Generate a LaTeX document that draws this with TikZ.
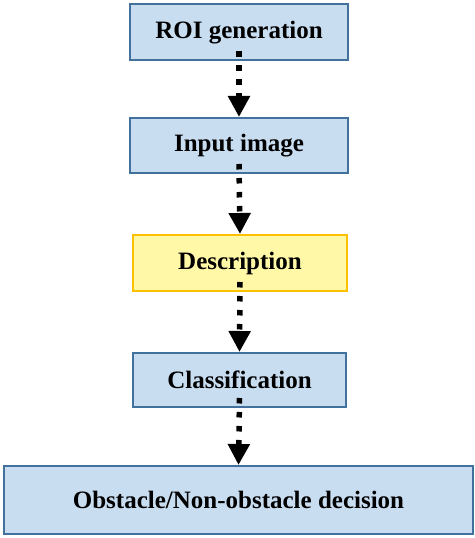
\documentclass[tikz,border=0pt]{standalone}
\usepackage{fontspec}
\setmainfont{Liberation Serif}
\usetikzlibrary{arrows.meta}

\definecolor{BoxFill}{HTML}{C9DDF1}
\definecolor{BoxLine}{HTML}{41719C}
\definecolor{DescFill}{HTML}{FFF8A6}
\definecolor{DescLine}{HTML}{FFC000}

\begin{document}
\begin{tikzpicture}[x=1pt, y=1pt,
  step box/.style={draw=BoxLine, fill=BoxFill, line width=2pt, inner sep=0pt,
    font=\fontsize{25}{28}\selectfont\bfseries},
  flow/.style={line width=5.5pt, dash pattern=on 5.5pt off 8.5pt,
    -{Triangle[width=21pt, length=21pt]}}]

 %%%%%%%%%% Frame %%%%%%%%%%
 \useasboundingbox (0,0) rectangle (474,538);

 %%%%%%%%%% Steps %%%%%%%%%%
 \node [step box, minimum width=218pt, minimum height=56pt] (roi) at (239,505.5) {ROI generation};
 \node [step box, minimum width=218pt, minimum height=55pt] (input) at (239,392.5) {Input image};
 \node [step box, draw=DescLine, fill=DescFill, minimum width=214pt, minimum height=56pt] (desc) at (240,275) {Description};
 \node [step box, minimum width=213pt, minimum height=54pt] (class) at (239.5,158) {Classification};
 \node [step box, minimum width=469pt, minimum height=68pt] (decision) at (238.5,38) {Obstacle/Non-obstacle decision};

 %%%%%%%%%% Arrows %%%%%%%%%%
 \draw [flow] ([yshift=10pt]roi.south) -- (input.north);
 \draw [flow] ([yshift=10pt]input.south) -- (desc.north);
 \draw [flow] ([yshift=10pt]desc.south) -- (class.north);
 \draw [flow] ([yshift=10pt]class.south) -- (decision.north);

\end{tikzpicture}
\end{document}
